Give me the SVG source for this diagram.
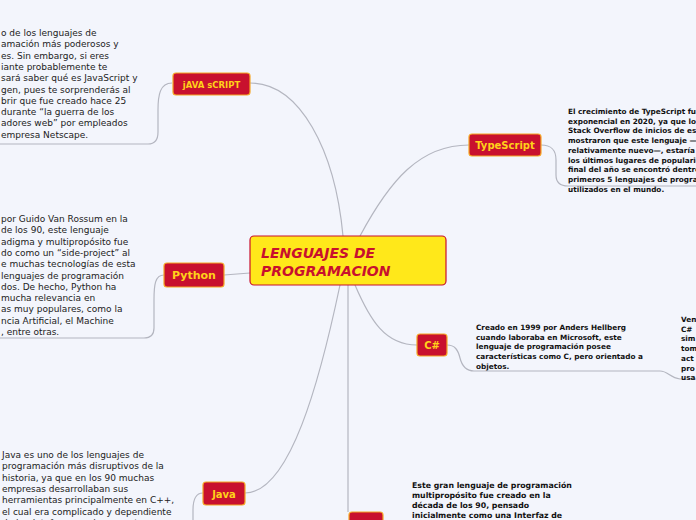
<svg xmlns="http://www.w3.org/2000/svg" width="696" height="520" viewBox="0 0 696 520">
<style>
.c{fill:none;stroke:#b4b6c0;stroke-width:1.2}
.n{fill:#c8102e;stroke:#f5a623;stroke-width:1.2}
.nt{fill:#ffd21a;font-family:"DejaVu Sans",sans-serif;font-weight:bold;text-anchor:middle}
.r{font-family:"DejaVu Sans",sans-serif;font-size:9px;fill:#222}
.b{font-family:"DejaVu Sans",sans-serif;font-size:7.3px;font-weight:bold;fill:#111}
</style>
<rect width="696" height="520" fill="#f3f5fc"/>
<g id="connectors">
<path class="c" d="M343,236 C335,150 300,83 250,83"/>
<path class="c" d="M224,275 L250,273"/>
<path class="c" d="M360,236 C390,180 420,145 469,145"/>
<path class="c" d="M355,285 C370,320 385,345 417,345"/>
<path class="c" d="M340,285 C320,380 290,493 245,493"/>
<path class="c" d="M348,285 L348,512"/>
<path class="c" d="M172,83 C160,83 158,95 158,110 L158,132 C158,140 155,144 148,144 L0,144"/>
<path class="c" d="M164,275 C155,275 154,285 154,300 L154,328 C154,335 150,338 144,338 L0,338"/>
<path class="c" d="M541,145 C552,145 556,150 556,160 L556,175 C556,182 560,186 568,186 L696,186"/>
<path class="c" d="M447,345 C455,345 458,350 460,358 C462,366 466,371 474,371 L660,371 C668,371 670,378 680,379 L696,379"/>
<path class="c" d="M203,493 C195,493 193,500 193,510 L193,520"/>
</g>
<g id="center">
<rect x="250" y="236" width="196" height="49" rx="4" fill="#ffe81a" stroke="#c8102e" stroke-width="1.2"/>
<text x="261" y="258" font-family="DejaVu Sans,sans-serif" font-size="14" font-weight="bold" font-style="italic" fill="#c8102e">LENGUAJES DE</text>
<text x="261" y="276" font-family="DejaVu Sans,sans-serif" font-size="14" font-weight="bold" font-style="italic" fill="#c8102e">PROGRAMACION</text>
</g>
<g id="javascript">
<rect class="n" x="173" y="73" width="77" height="22" rx="3"/>
<text class="nt" x="211.5" y="87.5" font-size="8.5">jAVA sCRIPT</text>
</g>
<g id="python">
<rect class="n" x="164" y="263" width="60" height="24" rx="3"/>
<text class="nt" x="194" y="279" font-size="11">Python</text>
</g>
<g id="typescript">
<rect class="n" x="469" y="134" width="72" height="22" rx="3"/>
<text class="nt" x="505" y="149" font-size="10">TypeScript</text>
</g>
<g id="csharp">
<rect class="n" x="417" y="334" width="30" height="22" rx="3"/>
<text class="nt" x="432" y="349" font-size="10">C#</text>
</g>
<g id="java">
<rect class="n" x="203" y="482" width="42" height="23" rx="3"/>
<text class="nt" x="224" y="497.5" font-size="10">Java</text>
</g>
<g id="bottom">
<rect class="n" x="349" y="512" width="34" height="20" rx="3"/>
</g>
<g id="note-js" class="r" font-size="9.4">
<text x="1" y="36">o de los lenguajes de</text>
<text x="1" y="47.3">amación más poderosos y</text>
<text x="1" y="58.6">es. Sin embargo, si eres</text>
<text x="1" y="69.9">iante probablemente te</text>
<text x="1" y="81.2">sará saber qué es JavaScript y</text>
<text x="1" y="92.5">gen, pues te sorprenderás al</text>
<text x="1" y="103.8">brir que fue creado hace 25</text>
<text x="1" y="115.1">durante “la guerra de los</text>
<text x="1" y="126.4">adores web” por empleados</text>
<text x="1" y="137.7">empresa Netscape.</text>
</g>
<g id="note-python" class="r" font-size="9.2">
<text x="1" y="222">por Guido Van Rossum en la</text>
<text x="1" y="233.3">de los 90, este lenguaje</text>
<text x="1" y="244.6">adigma y multipropósito fue</text>
<text x="1" y="255.9">do como un “side-project” al</text>
<text x="1" y="267.2">e muchas tecnologías de esta</text>
<text x="1" y="278.5">lenguajes de programación</text>
<text x="1" y="289.8">dos. De hecho, Python ha</text>
<text x="1" y="301.1">mucha relevancia en</text>
<text x="1" y="312.4">as muy populares, como la</text>
<text x="1" y="323.7">ncia Artificial, el Machine</text>
<text x="1" y="335">, entre otras.</text>
</g>
<g id="note-ts" class="b">
<text x="568" y="114">El crecimiento de TypeScript fue</text>
<text x="568" y="123.7">exponencial en 2020, ya que los</text>
<text x="568" y="133.4">Stack Overflow de inicios de ese</text>
<text x="568" y="143.1">mostraron que este lenguaje —</text>
<text x="568" y="152.8">relativamente nuevo—, estaría s</text>
<text x="568" y="162.5">los últimos lugares de popularida</text>
<text x="568" y="172.2">final del año se encontró dentro</text>
<text x="568" y="181.9">primeros 5 lenguajes de program</text>
<text x="568" y="191.6">utilizados en el mundo.</text>
</g>
<g id="note-cs" class="b">
<text x="476" y="330">Creado en 1999 por Anders Hellberg</text>
<text x="476" y="339.7">cuando laboraba en Microsoft, este</text>
<text x="476" y="349.4">lenguaje de programación posee</text>
<text x="476" y="359.1">características como C, pero orientado a</text>
<text x="476" y="368.8">objetos.</text>
</g>
<g id="note-cs2" class="b">
<text x="681" y="322">Ven</text>
<text x="681" y="331.7">C#</text>
<text x="681" y="341.4">sim</text>
<text x="681" y="351.1">tom</text>
<text x="681" y="360.8">act</text>
<text x="681" y="370.5">pro</text>
<text x="681" y="380.2">usa</text>
</g>
<g id="note-java" class="r">
<text x="2" y="458">Java es uno de los lenguajes de</text>
<text x="2" y="469.3">programación más disruptivos de la</text>
<text x="2" y="480.6">historia, ya que en los 90 muchas</text>
<text x="2" y="491.9">empresas desarrollaban sus</text>
<text x="2" y="503.2">herramientas principalmente en C++,</text>
<text x="2" y="514.5">el cual era complicado y dependiente</text>
<text x="2" y="525.8">de la plataforma en la que este se</text>
</g>
<g id="note-bottom" class="b">
<text x="412" y="488" font-size="7.8">Este gran lenguaje de programación</text>
<text x="412" y="498" font-size="7.8">multipropósito fue creado en la</text>
<text x="412" y="508" font-size="7.8">década de los 90, pensado</text>
<text x="412" y="518" font-size="7.8">inicialmente como una Interfaz de</text>
</g>
</svg>
